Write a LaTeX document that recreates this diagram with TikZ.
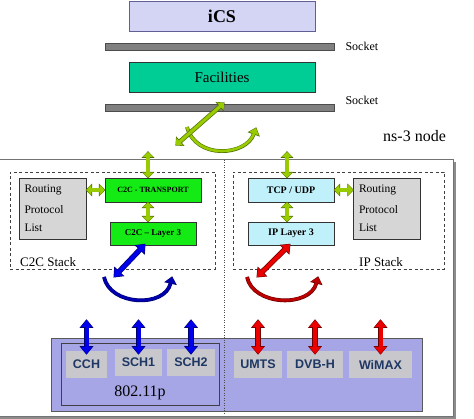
\documentclass[tikz,border=0pt]{standalone}
\usepackage{fontspec}
\setmainfont{Liberation Serif}
\setsansfont{Liberation Sans}
\usetikzlibrary{arrows.meta,calc,positioning}

\definecolor{icsfill}{RGB}{212,212,244}
\definecolor{icsedge}{RGB}{96,96,150}
\definecolor{sockfill}{RGB}{128,128,128}
\definecolor{facfill}{RGB}{0,204,150}
\definecolor{c2cfill}{RGB}{20,235,20}
\definecolor{ipfill}{RGB}{192,240,250}
\definecolor{rplfill}{RGB}{214,214,214}
\definecolor{radiofill}{RGB}{166,166,230}
\definecolor{chfill}{RGB}{200,200,204}
\definecolor{chtext}{RGB}{30,55,100}
\definecolor{agreen}{RGB}{153,204,0}
\definecolor{agreendark}{RGB}{80,110,0}
\definecolor{ablue}{RGB}{0,0,235}
\definecolor{abluedark}{RGB}{0,0,110}
\definecolor{ared}{RGB}{235,0,0}
\definecolor{areddark}{RGB}{110,0,0}

\tikzstyle{layer} = [rectangle, inner sep=0pt, draw=black!80, line width=0.6pt]
\tikzstyle{ics} = [layer, minimum width=186pt, minimum height=30pt, fill=icsfill, draw=icsedge, font=\bfseries\fontsize{18}{18}\selectfont]
\tikzstyle{socket} = [layer, minimum width=229pt, minimum height=7pt, fill=sockfill, draw=black!70]
\tikzstyle{facility} = [layer, minimum width=186pt, minimum height=30pt, fill=facfill, font=\fontsize{15}{15}\selectfont]
\tikzstyle{sockettext} = [inner sep=0pt, font=\fontsize{12}{12}\selectfont]
\tikzstyle{stack} = [rectangle, inner sep=0pt, draw=black!75, line width=0.7pt, dash pattern=on 3pt off 2.5pt]
\tikzstyle{stacktext} = [inner sep=0pt, font=\fontsize{13}{13}\selectfont]
\tikzstyle{routing} = [layer, fill=rplfill, minimum width=67pt, minimum height=61pt, text width=56pt, align=left, font=\fontsize{11.5}{18}\selectfont]
\tikzstyle{c2c} = [layer, fill=c2cfill, minimum height=24pt, font=\bfseries\fontsize{8}{8}\selectfont]
\tikzstyle{ip} = [layer, fill=ipfill, minimum width=86pt, minimum height=24pt, font=\bfseries\fontsize{10}{10}\selectfont]
\tikzstyle{radio} = [rectangle, inner sep=0pt, fill=radiofill, draw=black!65, line width=0.7pt]
\tikzstyle{channel} = [rectangle, inner sep=0pt, fill=chfill, text=chtext, minimum height=27pt, font=\sffamily\bfseries\fontsize{12.5}{12.5}\selectfont]
\tikzstyle{greenarrow} = [line width=3.2pt, draw=agreen, {Triangle[length=5pt,width=10pt]}-{Triangle[length=5pt,width=10pt]}, preaction={draw=agreendark, line width=4.6pt, shorten <=-0.8pt, shorten >=-0.8pt, {Triangle[length=6.6pt,width=12.4pt]}-{Triangle[length=6.6pt,width=12.4pt]}}]
\tikzstyle{bluearrow} = [line width=4pt, draw=ablue, {Triangle[length=7pt,width=11pt]}-{Triangle[length=7pt,width=11pt]}, preaction={draw=abluedark, line width=5.4pt, shorten <=-0.8pt, shorten >=-0.8pt, {Triangle[length=8.6pt,width=13.4pt]}-{Triangle[length=8.6pt,width=13.4pt]}}]
\tikzstyle{redarrow} = [line width=4pt, draw=ared, {Triangle[length=7pt,width=11pt]}-{Triangle[length=7pt,width=11pt]}, preaction={draw=areddark, line width=5.4pt, shorten <=-0.8pt, shorten >=-0.8pt, {Triangle[length=8.6pt,width=13.4pt]}-{Triangle[length=8.6pt,width=13.4pt]}}]
\tikzstyle{greenloop} = [line width=2.6pt, draw=agreen, -{Triangle[length=6pt,width=10pt]}, preaction={draw=agreendark, line width=3.8pt, shorten >=-0.8pt, -{Triangle[length=7.6pt,width=12.4pt]}}]
\tikzstyle{blueloop} = [line width=2.6pt, draw=ablue!75!black, -{Triangle[length=6pt,width=10pt]}, preaction={draw=abluedark, line width=3.8pt, shorten >=-0.8pt, -{Triangle[length=7.6pt,width=12.4pt]}}]
\tikzstyle{redloop} = [line width=2.6pt, draw=ared!80!black, -{Triangle[length=6pt,width=10pt]}, preaction={draw=areddark, line width=3.8pt, shorten >=-0.8pt, -{Triangle[length=7.6pt,width=12.4pt]}}]

\begin{document}
\begin{tikzpicture}[x=1pt, y=-1pt]
\useasboundingbox (0,0) rectangle (474,419);

% ns-3 node frame
\fill [black!45] (0,162) rectangle (456,419);
\draw [fill=white, draw=black!55, line width=0.8pt] (-2,159) rectangle (453,416);

\node (ics) [ics] at (222,16) {iCS};
\node (sock1) [socket] at (219.5,46.5) {};
\node (sock1txt) [sockettext, right=11pt of sock1] {Socket};
\node (fac) [facility] at (222,77) {Facilities};
\node (sock2) [socket] at (219.5,107.5) {};
\node (sock2txt) [sockettext, right=11pt of sock2, yshift=7pt] {Socket};
\node (ns3) [anchor=base west, inner sep=0pt, font=\fontsize{16}{16}\selectfont] at (383,142) {ns-3 node};

% stacks
\node (c2cstack) [stack, minimum width=205pt, minimum height=97pt] at (112.5,220.5) {};
\node (ipstack) [stack, minimum width=211pt, minimum height=97pt] at (338.5,220.5) {};
\node (c2clbl) [stacktext, anchor=base west] at (20,267) {C2C Stack};
\node (iplbl) [stacktext, anchor=base west] at (359,267) {IP Stack};

\node (rpl1) [routing] at (52.5,208.5) {\vspace*{3pt}Routing\\Protocol\\List};
\node (c2ct) [c2c, minimum width=96pt] at (153,190) {C2C - TRANSPORT};
\node (c2cl3) [c2c, minimum width=86pt, minimum height=23pt, font=\bfseries\fontsize{9}{9}\selectfont] at (153,233.5) {C2C – Layer 3};
\node (tcp) [ip] at (291,190) {TCP / UDP};
\node (ipl3) [ip, minimum height=23pt] at (291,233.5) {IP Layer 3};
\node (rpl2) [routing] at (387,208.5) {\vspace*{3pt}Routing\\Protocol\\List};

% radio access
\node (radio) [radio, minimum width=371pt, minimum height=73pt] at (236.5,374.5) {};
\node (wifi) [radio, fill=none, draw=black!75, minimum width=158pt, minimum height=62pt] at (140,374) {};
\node (wifilbl) [inner sep=0pt, font=\fontsize{16}{16}\selectfont] at (140,393) {802.11p};
\node (cch) [channel, minimum width=41pt] at (86.5,364.5) {CCH};
\node (sch1) [channel, minimum width=47pt] at (138.5,362.5) {SCH1};
\node (sch2) [channel, minimum width=48pt] at (191,362.5) {SCH2};
\node (umts) [channel, minimum width=48pt] at (258,364.5) {UMTS};
\node (dvbh) [channel, minimum width=56pt] at (315,364.5) {DVB-H};
\node (wimax) [channel, minimum width=63pt] at (380.5,364.5) {WiMAX};

\draw [dash pattern=on 1pt off 1.5pt, line width=0.8pt, black!70] (224,160) -- (224,415);

% arrows
\coordinate (facout) at (224,103);
\coordinate (nodein) at (176,145);
\coordinate (loopstart) at (187,127);
\coordinate (loopend) at (256,128);
\coordinate (c2cin) at (148,152);
\coordinate (ipin) at (287,152);
\coordinate (c2cout) at (114,277);
\coordinate (ipout) at (257,277);
\coordinate (c2cl) at (104,277);
\coordinate (c2cr) at (172,277);
\coordinate (ipl) at (247,277);
\coordinate (ipr) at (318,277);
\coordinate (airtop) at (0,320);
\coordinate (airtip) at (0,354);

\draw [greenloop] (loopstart) .. controls (196,160) and (246,156) .. (loopend);
\draw [greenarrow] (facout) -- (nodein);

\draw [greenarrow] (c2cin) -- (c2cin |- c2ct.north);
\draw [greenarrow] (c2ct.south -| c2cin) -- (c2cl3.north -| c2cin);
\draw [greenarrow] (rpl1.east |- c2ct) -- (c2ct.west);
\draw [greenarrow] (ipin) -- (ipin |- tcp.north);
\draw [greenarrow] (tcp.south -| ipin) -- (ipl3.north -| ipin);
\draw [greenarrow] (tcp.east) -- (rpl2.west |- tcp);

\draw [blueloop] (c2cl) .. controls (110,306) and (165,308) .. (c2cr);
\draw [bluearrow] ($(c2cl3.south)+(-8,-1)$) -- (c2cout);
\draw [redloop] (ipl) .. controls (253,306) and (310,308) .. (ipr);
\draw [redarrow] ($(ipl3.south)+(-1,-1)$) -- (ipout);

\foreach \ch in {cch,sch1,sch2}
  \draw [bluearrow] (\ch.north |- airtop) -- (\ch.north |- airtip);
\foreach \ch in {umts,dvbh,wimax}
  \draw [redarrow] (\ch.north |- airtop) -- (\ch.north |- airtip);

\end{tikzpicture}
\end{document}
